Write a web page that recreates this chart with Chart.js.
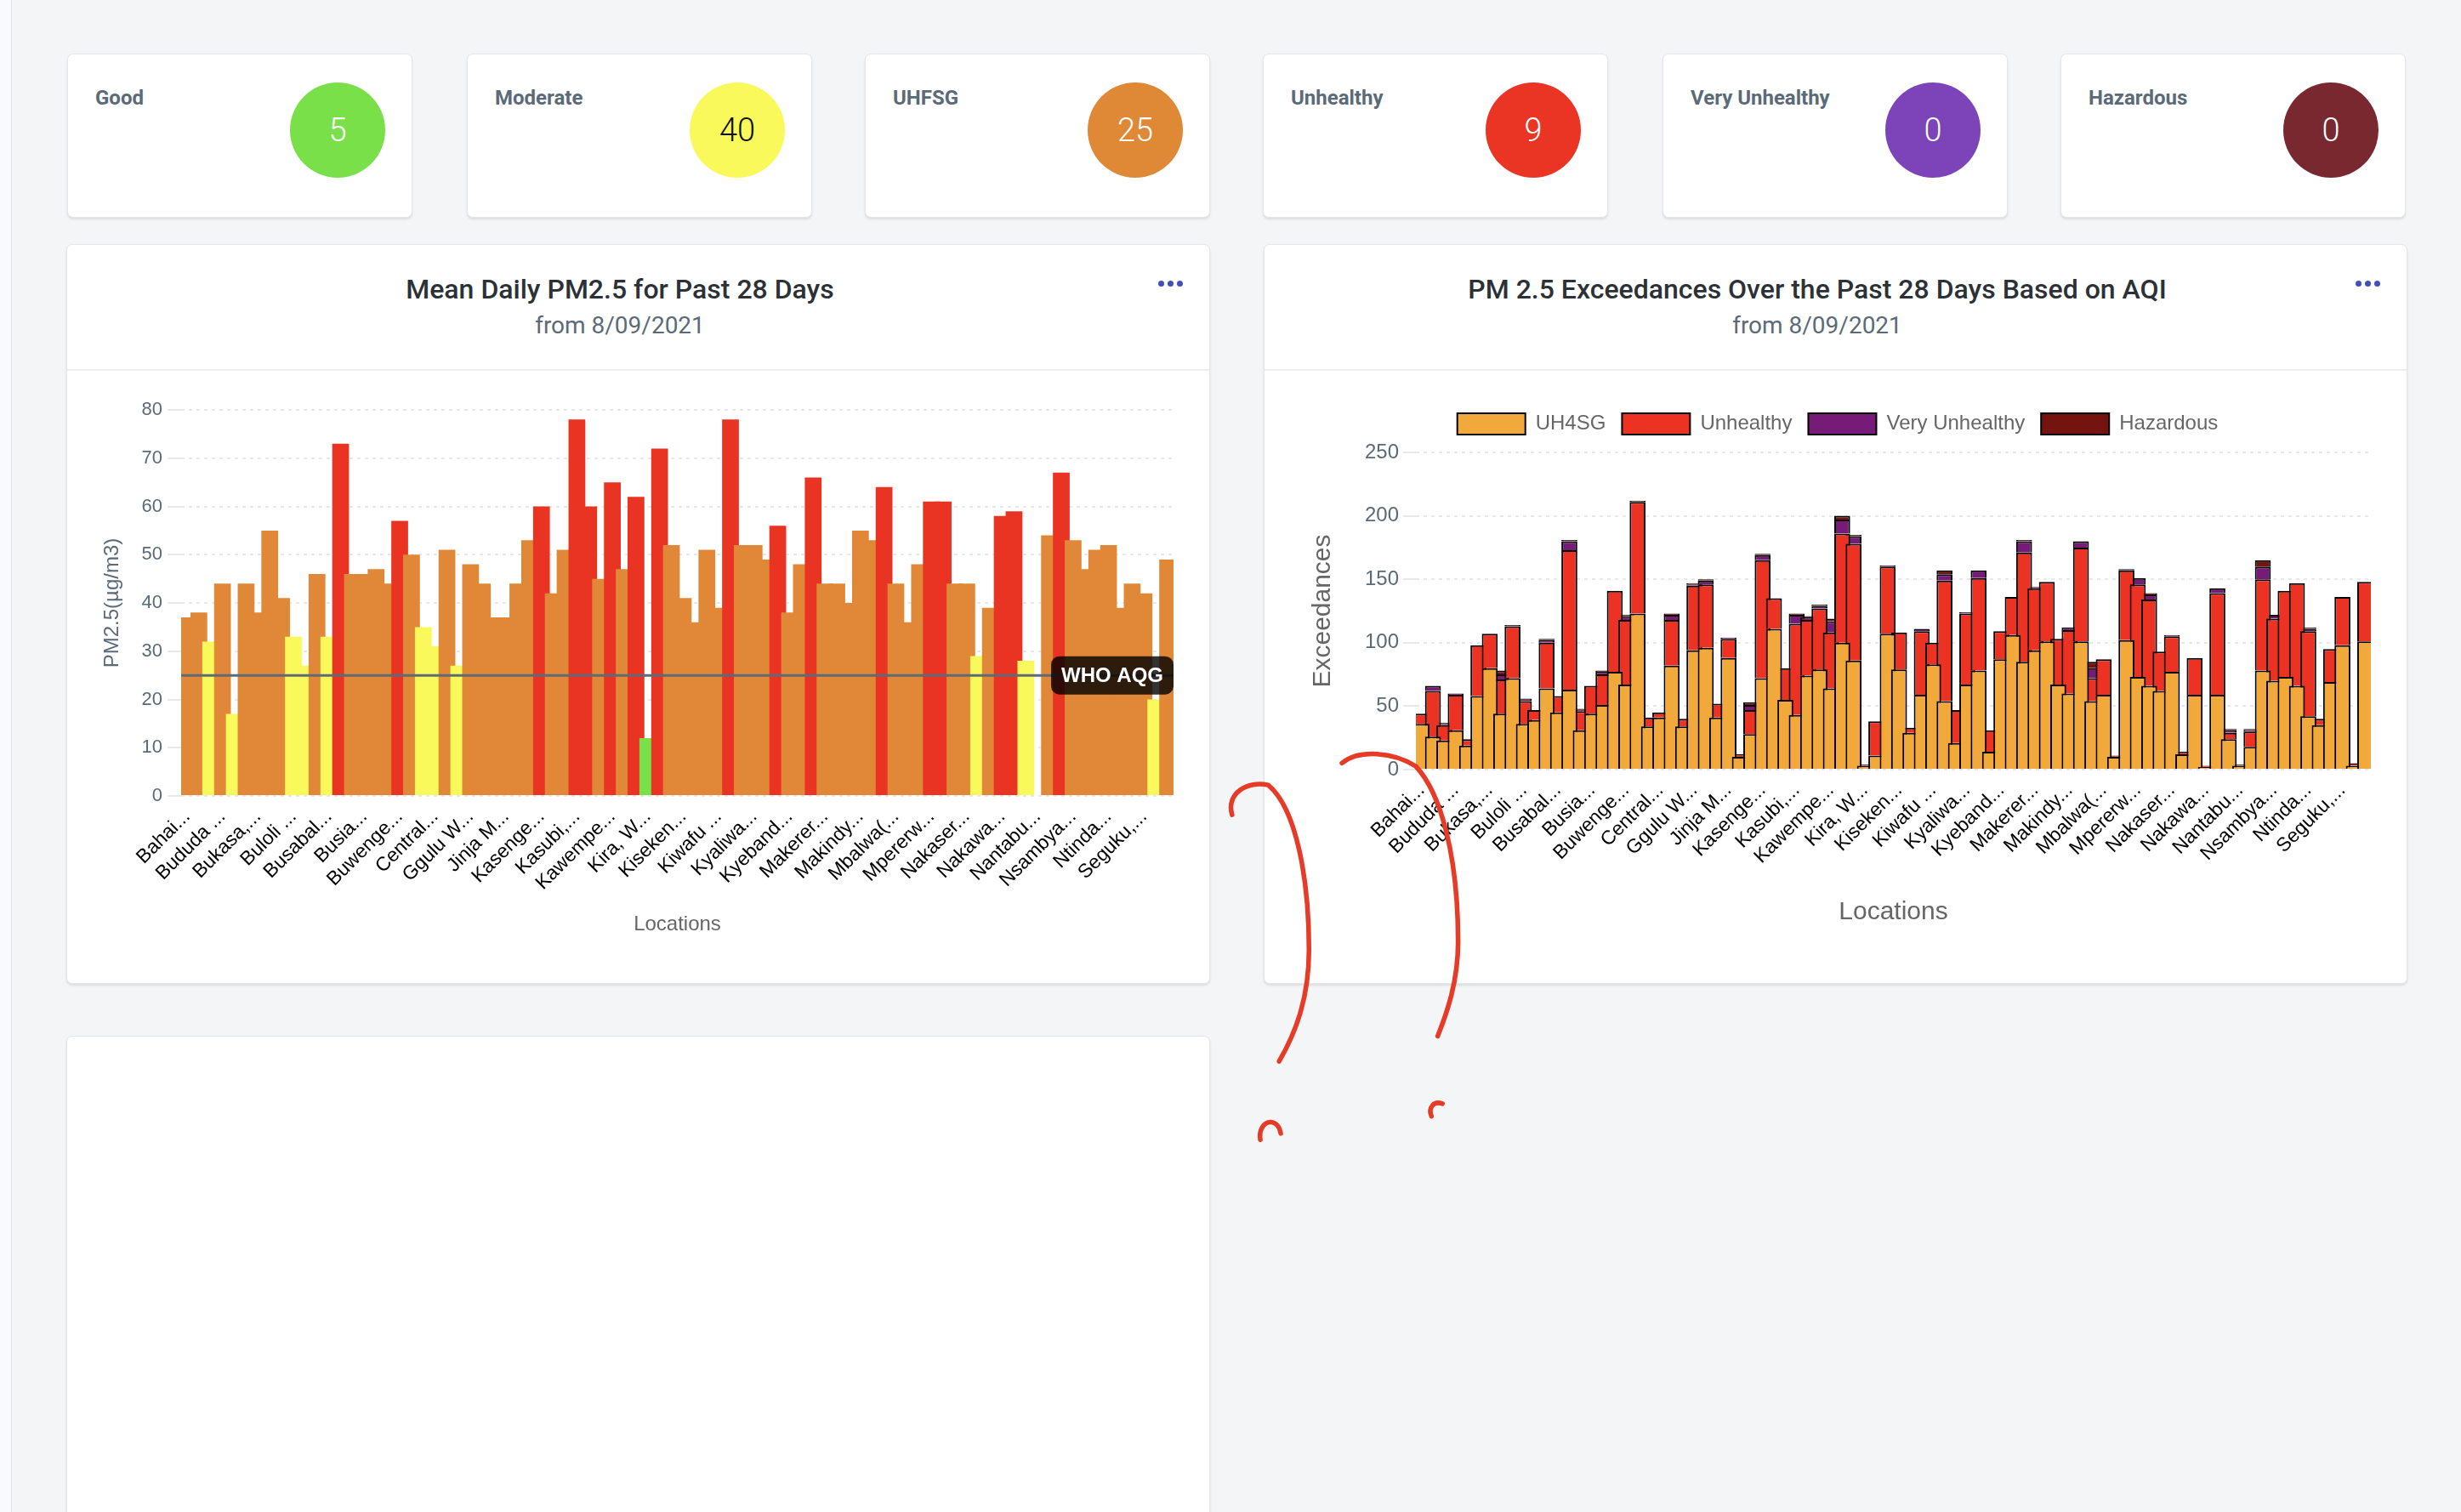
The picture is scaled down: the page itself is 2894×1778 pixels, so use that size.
<!DOCTYPE html>
<html>
<head>
<meta charset="utf-8">
<script src="https://cdn.jsdelivr.net/npm/chart.js@4.4.0/dist/chart.umd.min.js"></script>
<style>
body{margin:0;width:2894px;height:1778px;overflow:hidden;background:#f4f5f7;position:relative;font-family:Roboto,'Liberation Sans',sans-serif;}
.rail{position:absolute;left:0;top:0;width:13px;height:1778px;background:#f9fafb;border-right:1px solid #dfe2e6;}
.card{position:absolute;background:#fff;border:1px solid #e4e6ea;border-radius:7px;box-shadow:0 2px 3px rgba(0,0,0,0.10);box-sizing:border-box;}
.stat .lbl{position:absolute;left:32px;top:37px;font-size:24px;font-weight:700;color:#5a6a78;}
.stat .num{position:absolute;left:261px;top:33px;width:112px;height:112px;border-radius:50%;display:flex;align-items:center;justify-content:center;font-size:38px;font-weight:300;color:#fff;}
.head{position:absolute;left:0;top:0;right:0;height:146px;border-bottom:2px solid #eceef1;}
.head h2{margin:0;position:absolute;left:0;right:43px;top:33px;text-align:center;font-size:32px;font-weight:500;color:#2b3137;white-space:nowrap;}
.head p{margin:0;position:absolute;left:0;right:43px;top:78px;text-align:center;font-size:28px;color:#5a6a78;}
.more{position:absolute;right:31px;top:42px;display:flex;gap:4px;}
.more span{width:7px;height:7px;border-radius:50%;background:#3f51b5;}
canvas{position:absolute;}
svg{position:absolute;left:0;top:0;pointer-events:none;}
</style>
</head>
<body>
<div class="rail"></div>
<div id="stats"></div>

<div class="card" style="left:78px;top:287px;width:1345px;height:870px;">
  <div class="head"><h2>Mean Daily PM2.5 for Past 28 Days</h2><p>from 8/09/2021</p>
  <div class="more"><span></span><span></span><span></span></div></div>
</div>
<div class="card" style="left:1486px;top:287px;width:1345px;height:870px;">
  <div class="head"><h2>PM 2.5 Exceedances Over the Past 28 Days Based on AQI</h2><p>from 8/09/2021</p>
  <div class="more"><span></span><span></span><span></span></div></div>
</div>
<div class="card" style="left:78px;top:1218px;width:1345px;height:640px;"></div>

<canvas id="meanChart" width="1286" height="656" style="left:114px;top:450px;"></canvas>
<canvas id="exceedChart" width="1276" height="628" style="left:1534px;top:467px;"></canvas>

<svg width="2894" height="1778" viewBox="0 0 1568 963">
  <g fill="none" stroke="#e63b27" stroke-width="3" stroke-linecap="round">
    <path d="M 785 519 C 781 505 795 497 808 500 C 826 515 834 560 834 605 C 834 635 826 657 815 676"/>
    <path d="M 855 486 C 866 477 888 479 902 488 C 918 505 929 545 929 600 C 929 625 922 645 916 660"/>
    <path d="M 803 726 C 801 714 814 710 816 722"/>
    <path d="M 919 703 C 913 701 910 706 912 711"/>
  </g>
</svg>

<script>
// AQI category summary cards
const cardLabels = ['Good', 'Moderate', 'UHFSG', 'Unhealthy', 'Very Unhealthy', 'Hazardous'];
const cardCounts = [5, 40, 25, 9, 0, 0];

// locations (every third one is shown on the axis)
const locations = [
	'Bahai...', 'Banda...', 'Bbiina...',
	'Bududa ...', 'Bugiri...', 'Bugolob...',
	'Bukasa,...', 'Bukoto...', 'Bukwo...',
	'Buloli ...', 'Bunamwa...', 'Bunga...',
	'Busabal...', 'Busega...', 'Bushenyi...',
	'Busia...', 'Butabik...', 'Butamba...',
	'Buwenge...', 'Bwaise...', 'Bweyoge...',
	'Central...', 'Civic C...', 'Gayaza...',
	'Ggulu W...', 'Iganga...', 'Jinja C...',
	'Jinja M...', 'Kajjans...', 'Kamwoky...',
	'Kasenge...', 'Kasese...', 'Kasokos...',
	'Kasubi,...', 'Katwe...', 'Kawala...',
	'Kawempe...', 'Kazo...', 'Kibuli...',
	'Kira, W...', 'Kireka...', 'Kisaasi...',
	'Kiseken...', 'Kisenyi...', 'Kitinta...',
	'Kiwafu ...', 'Kololo...', 'Kulambi...',
	'Kyaliwa...', 'Kyambog...', 'Kyanja...',
	'Kyeband...', 'Lubaga...', 'Lungujj...',
	'Makerer...', 'Makerer...', 'Makindy...',
	'Makindy...', 'Masaka...', 'Mbale...',
	'Mbalwa(...', 'Mengo...', 'Mityana...',
	'Mpererw...', 'Mukono...', 'Mutundw...',
	'Nakaser...', 'Nakason...', 'Nakasse...',
	'Nakawa...', 'Namugon...', 'Nansana...',
	'Nantabu...', 'Ndeeba...', 'Njeru...',
	'Nsambya...', 'Nsangi...', 'Nsumbi...',
	'Ntinda...', 'Rubaga...', 'Seeta...',
	'Seguku,...', 'Sentema...', 'Wandege...'
];

// mean daily PM2.5 per location
const pm25Means = [
	37, 38, 32, 44, 17, 44, 38, 55, 41, 33,
	27, 46, 33, 73, 46, 46, 47, 44, 57, 50,
	35, 31, 51, 27, 48, 44, 37, 37, 44, 53,
	60, 42, 51, 78, 60, 45, 65, 47, 62, 12,
	72, 52, 41, 36, 51, 39, 78, 52, 52, 49,
	56, 38, 48, 66, 44, 44, 40, 55, 53, 64,
	44, 36, 48, 61, 61, 44, 44, 29, 39, 58,
	59, 28, null, 54, 67, 53, 47, 51, 52, 39,
	44, 42, 20, 49
];
const whoGuideline = 25;

// exceedances per location
const uh4sgCounts = [
	36, 26, 23, 31, 19, 58, 80, 44, 72, 36,
	39, 64, 45, 63, 31, 44, 51, 77, 67, 123,
	34, 41, 82, 34, 94, 96, 41, 88, 10, 28,
	72, 111, 55, 43, 74, 79, 64, 100, 86, 3,
	11, 107, 79, 29, 59, 83, 54, 21, 67, 78,
	14, 87, 106, 85, 94, 101, 67, 60, 101, 54,
	59, 10, 102, 73, 66, 62, 77, 12, 59, 2,
	59, 24, 3, 18, 78, 70, 73, 66, 42, 35,
	69, 98, 3, 101
];
const unhealthyCounts = [
	8, 36, 12, 28, 5, 40, 27, 27, 41, 18,
	8, 36, 13, 110, 15, 22, 24, 64, 51, 88,
	7, 4, 36, 6, 51, 50, 11, 15, 2, 19,
	93, 24, 25, 72, 44, 48, 44, 86, 92, 1,
	27, 53, 29, 4, 50, 17, 95, 26, 56, 73,
	17, 22, 30, 86, 49, 47, 36, 50, 74, 18,
	28, 1, 55, 73, 68, 31, 28, 2, 29, 1,
	80, 5, 1, 12, 72, 49, 68, 81, 67, 5,
	26, 38, 2, 47
];
const veryUnhealthyCounts = [
	0, 4, 1, 1, 0, 0, 0, 4, 1, 1,
	0, 2, 0, 7, 1, 0, 2, 0, 3, 0,
	0, 0, 4, 0, 1, 3, 0, 1, 0, 4,
	4, 0, 0, 7, 2, 2, 9, 11, 6, 0,
	0, 1, 0, 0, 2, 0, 5, 0, 1, 6,
	0, 0, 0, 9, 1, 0, 0, 2, 5, 8,
	0, 0, 1, 5, 4, 0, 1, 0, 0, 0,
	4, 2, 0, 1, 10, 3, 0, 0, 2, 0,
	0, 0, 0, 0
];
const hazardousCounts = [
	0, 0, 1, 0, 0, 0, 0, 3, 0, 1,
	0, 1, 0, 1, 1, 0, 1, 0, 1, 1,
	0, 0, 1, 0, 1, 1, 0, 0, 0, 2,
	1, 0, 0, 1, 1, 1, 2, 3, 1, 0,
	0, 0, 0, 0, 0, 0, 3, 0, 0, 0,
	0, 0, 0, 1, 0, 0, 0, 0, 0, 5,
	0, 0, 0, 0, 1, 0, 0, 0, 0, 0,
	0, 1, 0, 1, 5, 0, 0, 0, 1, 0,
	0, 0, 0, 0
];

const cardLefts = [79, 549, 1017, 1485, 1955, 2423];
const cardColors = ['#79e04a', '#f9f95b', '#df8836', '#ea3424', '#7d44b9', '#7a2830'];

// summary cards
const stats = document.getElementById('stats');
cardLabels.forEach((name, i) => {
	const el = document.createElement('div');
	el.className = 'card stat';
	el.style.cssText = `left:${cardLefts[i]}px;top:63px;width:406px;height:193px;`;
	el.innerHTML = `<div class="lbl">${name}</div>
		<div class="num" style="background:${cardColors[i]};color:${i === 1 ? '#111' : '#fff'}">${cardCounts[i]}</div>`;
	stats.appendChild(el);
});

function aqiColor(v) {
	if (v === null) return 'rgba(0,0,0,0)';
	if (v <= 12) return '#79e04a';
	if (v <= 35.4) return '#f9f95b';
	if (v <= 55.4) return '#e08838';
	return '#e93424';
}

Chart.defaults.font.family = "'Liberation Sans', Arial, sans-serif";
Chart.defaults.animation = false;

// WHO guideline line + label
const whoLine = {
	id: 'whoLine',
	afterDatasetsDraw(chart, args, opts) {
		const {ctx, chartArea} = chart;
		const py = chart.scales.y.getPixelForValue(opts.value);
		ctx.save();
		ctx.strokeStyle = '#5f6b73';
		ctx.lineWidth = 3;
		ctx.beginPath();
		ctx.moveTo(chartArea.left, py);
		ctx.lineTo(chartArea.right, py);
		ctx.stroke();

		ctx.font = "bold 24px 'Liberation Sans', Arial, sans-serif";
		const w = ctx.measureText(opts.label).width + 24;
		const h = 45;
		const x = chartArea.right - w;
		ctx.fillStyle = 'rgba(0,0,0,0.8)';
		ctx.beginPath();
		ctx.roundRect(x, py - h / 2, w, h, 10);
		ctx.fill();
		ctx.fillStyle = '#fff';
		ctx.textAlign = 'center';
		ctx.textBaseline = 'middle';
		ctx.fillText(opts.label, x + w / 2, py + 1);
		ctx.restore();
	}
};

// a bit more room under the legend
const legendGap = {
	id: 'legendGap',
	beforeInit(chart) {
		const fit = chart.legend.fit;
		chart.legend.fit = function () {
			fit.call(this);
			this.height += 11;
		};
	}
};

function everyThird(val, index) {
	return index % 3 === 0 ? this.getLabelForValue(val) : null;
}

var meanChart = new Chart(document.getElementById('meanChart'), {
	type: 'bar',
	data: {
		labels: locations,
		datasets: [{
			label: 'PM2.5',
			data: pm25Means,
			backgroundColor: pm25Means.map(aqiColor),
			barPercentage: 1.42,
			categoryPercentage: 1
		}]
	},
	options: {
		responsive: false,
		layout: { padding: { top: 32, right: 20 } },
		plugins: {
			legend: { display: false },
			tooltip: { enabled: false },
			whoLine: { value: whoGuideline, label: 'WHO AQG' }
		},
		scales: {
			x: {
				grid: { display: false },
				border: { display: false },
				ticks: {
					autoSkip: false, minRotation: 45, maxRotation: 45,
					color: '#000', font: { size: 23 },
					callback: everyThird
				},
				title: { display: true, text: 'Locations', color: '#666', font: { size: 24 } },
				afterFit: (s) => { s.height = 170; }
			},
			y: {
				min: 0, max: 80,
				ticks: { stepSize: 10, color: '#5a6a78', font: { size: 22 }, padding: 6 },
				grid: { color: 'rgba(0,0,0,0.09)', lineWidth: 2, tickLength: 16 },
				border: { display: false, dash: [4, 5] },
				title: { display: true, text: 'PM2.5(µg/m3)', color: '#5a6a78', font: { size: 24 } },
				afterFit: (s) => { s.width = 99; }
			}
		}
	},
	plugins: [whoLine]
});

var exceedChart = new Chart(document.getElementById('exceedChart'), {
	type: 'bar',
	data: {
		labels: locations,
		datasets: [
			{ label: 'UH4SG', data: uh4sgCounts, backgroundColor: '#f2a93b' },
			{ label: 'Unhealthy', data: unhealthyCounts, backgroundColor: '#ec3223' },
			{ label: 'Very Unhealthy', data: veryUnhealthyCounts, backgroundColor: '#761b78' },
			{ label: 'Hazardous', data: hazardousCounts, backgroundColor: '#75140f' }
		].map(d => Object.assign(d, {
			borderColor: '#000', borderWidth: 2,
			barPercentage: 1.4, categoryPercentage: 1
		}))
	},
	options: {
		responsive: false,
		layout: { padding: { right: 22 } },
		plugins: {
			tooltip: { enabled: false },
			legend: {
				labels: { boxWidth: 80, boxHeight: 25, padding: 19, color: '#666', font: { size: 24 } }
			}
		},
		scales: {
			x: {
				stacked: true,
				grid: { display: false },
				border: { display: false },
				ticks: {
					autoSkip: false, minRotation: 45, maxRotation: 45,
					color: '#000', font: { size: 23 },
					callback: everyThird
				},
				title: { display: true, text: 'Locations', color: '#666', font: { size: 30 } },
				afterFit: (s) => { s.height = 190; }
			},
			y: {
				stacked: true,
				min: 0, max: 250,
				ticks: { stepSize: 50, color: '#5a6a78', font: { size: 24 }, padding: 5 },
				grid: { color: 'rgba(0,0,0,0.09)', lineWidth: 2, tickLength: 15 },
				border: { display: false, dash: [4, 5] },
				title: { display: true, text: 'Exceedances', color: '#666', font: { size: 30 } },
				afterFit: (s) => { s.width = 131; }
			}
		}
	},
	plugins: [legendGap]
});
</script>
</body>
</html>
